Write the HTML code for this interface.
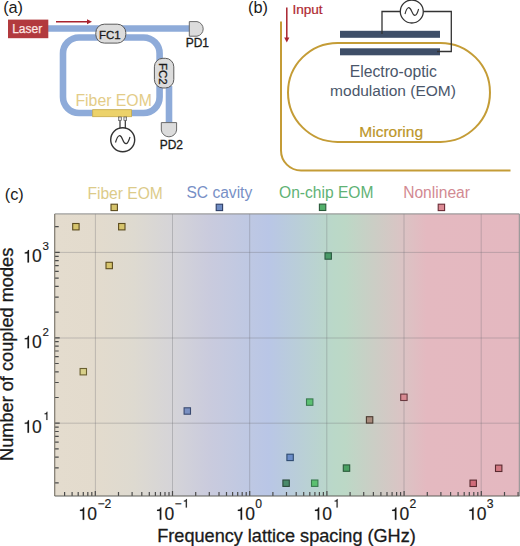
<!DOCTYPE html>
<html><head><meta charset="utf-8">
<style>
html,body{margin:0;padding:0;background:#fff;width:520px;height:546px;overflow:hidden}
svg{display:block;font-family:"Liberation Sans",sans-serif}
</style></head><body>
<svg width="520" height="546" viewBox="0 0 520 546">
<defs>
<linearGradient id="bg" x1="54.7" y1="0" x2="519.5" y2="0" gradientUnits="userSpaceOnUse">
<stop offset="0" stop-color="#e4dcce"/>
<stop offset="0.087" stop-color="#e3dbcd"/>
<stop offset="0.17" stop-color="#dedad0"/>
<stop offset="0.254" stop-color="#d5d4d8"/>
<stop offset="0.33" stop-color="#cacbdd"/>
<stop offset="0.42" stop-color="#bec8e3"/>
<stop offset="0.46" stop-color="#b9c6e6"/>
<stop offset="0.6" stop-color="#bad8c8"/>
<stop offset="0.625" stop-color="#bcd8c6"/>
<stop offset="0.751" stop-color="#dbc3c4"/>
<stop offset="0.8" stop-color="#e4b9c0"/>
<stop offset="1" stop-color="#e4b8c0"/>
</linearGradient>
</defs>

<!-- ============ (a) ============ -->
<text x="3.15" y="12.65" font-size="16.3" fill="#1a1a1a">(a)</text>
<g fill="none" stroke="#8eabd9" stroke-width="6.6">
<path d="M48 28.5 H190"/>
<path d="M111 37.5 H143.6 A16 16 0 0 1 159.6 53.5 V97 A16 16 0 0 1 143.6 113 H79 A16 16 0 0 1 63 97 V53.5 A16 16 0 0 1 79 37.5 H111"/>
<path d="M169 86 V123.5"/>
</g>
<rect x="8" y="19.6" width="40.3" height="18.6" fill="#b23a3e"/>
<text x="12.2" y="33" font-size="12" fill="#fde6e2" stroke="#fde6e2" stroke-width="0.25">Laser</text>
<path d="M56 21.8 H88.5" stroke="#a8232e" stroke-width="1.5"/>
<path d="M92 21.8 L87 19.3 L87 24.3 Z" fill="#a8232e"/>
<rect x="95.8" y="24.2" width="30" height="18.9" rx="8.5" fill="#dcdcdc" stroke="#5a5a5a" stroke-width="1"/>
<text x="109.9" y="39.2" font-size="11.5" text-anchor="middle" fill="#1a1a1a" stroke="#1a1a1a" stroke-width="0.3">FC1</text>
<rect x="154.4" y="58.3" width="19.4" height="29.7" rx="8.5" fill="#dcdcdc" stroke="#5a5a5a" stroke-width="1"/>
<text transform="translate(159 73.85) rotate(90)" font-size="11.5" text-anchor="middle" fill="#1a1a1a" stroke="#1a1a1a" stroke-width="0.3">FC2</text>
<path d="M189.3 21.6 H197 A7.4 7.4 0 0 1 197 36.2 H189.3 Z" fill="#dcdcdc" stroke="#6a6a6a" stroke-width="1"/>
<text x="185.7" y="46.6" font-size="12" fill="#1a1a1a" stroke="#1a1a1a" stroke-width="0.3">PD1</text>
<path d="M161.3 122.6 V130 A7.7 7.7 0 0 0 176.6 130 V122.6 Z" fill="#dcdcdc" stroke="#6a6a6a" stroke-width="1"/>
<text x="159.7" y="149" font-size="12" fill="#1a1a1a" stroke="#1a1a1a" stroke-width="0.3">PD2</text>
<text x="75.45" y="106.2" font-size="15.8" fill="#e3cc88">Fiber EOM</text>
<rect x="92.7" y="109.7" width="38.8" height="7" fill="#ecd26a" stroke="#c9ac48" stroke-width="0.8"/>
<path d="M120 117 V128 M125.3 117 V128" stroke="#333" stroke-width="1.2"/>
<rect x="118.6" y="117" width="2.8" height="3.5" fill="#ddd" stroke="#444" stroke-width="0.6"/>
<rect x="123.9" y="117" width="2.8" height="3.5" fill="#ddd" stroke="#444" stroke-width="0.6"/>
<circle cx="122.7" cy="139.7" r="12" fill="#fff" stroke="#333" stroke-width="1.4"/>
<path d="M115.5 142.5 C118 134 120.5 134 122.7 139.7 C125 145.4 127.5 145.4 130 137" fill="none" stroke="#333" stroke-width="1.2"/>

<!-- ============ (b) ============ -->
<text x="248" y="12.65" font-size="16.3" fill="#1a1a1a">(b)</text>
<path d="M281 21.5 V150.5 A20 20 0 0 0 301 170.5 H510.5" fill="none" stroke="#c49c36" stroke-width="2"/>
<path d="M286.8 7.4 V38.5" stroke="#a8232e" stroke-width="1.5"/>
<path d="M286.8 42.6 L284.2 37.6 L289.4 37.6 Z" fill="#a8232e"/>
<text x="292.4" y="14.3" font-size="13.6" fill="#b0282f" stroke="#b0282f" stroke-width="0.2">Input</text>
<path d="M337.5 42.9 H440.5 A49.5 49.5 0 0 1 440.5 141.9 H337.5 A49.5 49.5 0 0 1 337.5 42.9 Z" fill="none" stroke="#c49c36" stroke-width="2"/>
<rect x="340" y="30.8" width="100" height="7" fill="#3e4e68"/>
<rect x="340" y="48.3" width="100" height="7" fill="#3e4e68"/>
<path d="M382 34 V11.5 H400.3 M423.3 11.5 H451.3 V51.5 H437" fill="none" stroke="#333" stroke-width="1.3"/>
<circle cx="411.8" cy="11.5" r="11.5" fill="#fff" stroke="#333" stroke-width="1.3"/>
<path d="M405 14 C407 6 409.5 6 411.8 11.5 C414 17 416.5 17 418.6 9" fill="none" stroke="#333" stroke-width="1.1"/>
<text x="349.75" y="76.6" font-size="15.7" fill="#4a566a">Electro-optic</text>
<text x="330.1" y="95.6" font-size="15.5" fill="#4a566a">modulation (EOM)</text>
<text x="359.3" y="136.7" font-size="15.5" fill="#bc9628" stroke="#bc9628" stroke-width="0.2">Microring</text>

<!-- ============ (c) ============ -->
<text x="4.77" y="199.65" font-size="16.3" fill="#1a1a1a">(c)</text>
<text x="87.4" y="198.5" font-size="15.6" fill="#dccb8a">Fiber EOM</text>
<text x="186.4" y="198.2" font-size="15.6" fill="#7890c6">SC cavity</text>
<text x="279.0" y="197.9" font-size="15.6" fill="#60b275">On-chip EOM</text>
<text x="403.2" y="198.4" font-size="15.6" fill="#d28a92">Nonlinear</text>

<rect x="54.7" y="213.9" width="464.8" height="282.1" fill="url(#bg)"/>
<g id="grid" stroke="#6a6a70" stroke-opacity="0.32" stroke-width="1">
<path d="M95.4 213.9 V496 M172.5 213.9 V496 M249.7 213.9 V496 M326.8 213.9 V496 M404 213.9 V496 M481.2 213.9 V496"/>
<path d="M54.7 252.4 H519.5 M54.7 338 H519.5 M54.7 423.2 H519.5"/>
</g>
<g id="ticks" stroke="#4a4a4a" stroke-width="1.2"><path d="M64.6 496 v-4 M72.1 496 v-4 M78.2 496 v-4 M83.3 496 v-4 M87.8 496 v-4 M91.8 496 v-4 M95.3 496 v-5 M118.5 496 v-4 M132.1 496 v-4 M141.8 496 v-4 M149.3 496 v-4 M155.4 496 v-4 M160.5 496 v-4 M165.0 496 v-4 M169.0 496 v-4 M172.5 496 v-5 M195.7 496 v-4 M209.3 496 v-4 M219.0 496 v-4 M226.5 496 v-4 M232.6 496 v-4 M237.7 496 v-4 M242.2 496 v-4 M246.2 496 v-4 M249.7 496 v-5 M272.9 496 v-4 M286.5 496 v-4 M296.2 496 v-4 M303.7 496 v-4 M309.8 496 v-4 M314.9 496 v-4 M319.4 496 v-4 M323.4 496 v-4 M326.9 496 v-5 M350.1 496 v-4 M363.7 496 v-4 M373.4 496 v-4 M380.9 496 v-4 M387.0 496 v-4 M392.1 496 v-4 M396.6 496 v-4 M400.6 496 v-4 M404.1 496 v-5 M427.3 496 v-4 M440.9 496 v-4 M450.6 496 v-4 M458.1 496 v-4 M464.2 496 v-4 M469.3 496 v-4 M473.8 496 v-4 M477.8 496 v-4 M481.3 496 v-5 M504.5 496 v-4 M518.1 496 v-4 M54.7 482.9 h4 M54.7 467.9 h4 M54.7 457.2 h4 M54.7 448.9 h4 M54.7 442.1 h4 M54.7 436.4 h4 M54.7 431.5 h4 M54.7 427.1 h4 M54.7 423.2 h5 M54.7 397.5 h4 M54.7 382.5 h4 M54.7 371.8 h4 M54.7 363.5 h4 M54.7 356.7 h4 M54.7 351.0 h4 M54.7 346.1 h4 M54.7 341.7 h4 M54.7 337.8 h5 M54.7 312.1 h4 M54.7 297.1 h4 M54.7 286.4 h4 M54.7 278.1 h4 M54.7 271.3 h4 M54.7 265.6 h4 M54.7 260.7 h4 M54.7 256.3 h4 M54.7 252.4 h5 M54.7 226.7 h4"/></g>
<path d="M54.7 213.9 H519.3 V496" fill="none" stroke="#8a8a8a" stroke-width="1"/>
<path d="M54.7 213.9 V496" fill="none" stroke="#7e796e" stroke-width="1.2"/>
<path d="M54.7 496 H519.5" fill="none" stroke="#5e5e58" stroke-width="1.2"/>

<g id="markers" stroke-width="1.1"><rect x="111.00" y="204.20" width="6.4" height="6.4" fill="#d6c46c" stroke="#5c4c1e"/><rect x="216.20" y="204.20" width="6.4" height="6.4" fill="#6e8cc4" stroke="#2e3e66"/><rect x="319.40" y="204.10" width="6.4" height="6.4" fill="#52b06a" stroke="#2a5a3a"/><rect x="438.20" y="204.20" width="6.4" height="6.4" fill="#dc8a94" stroke="#6a2c36"/><rect x="72.70" y="223.50" width="6.4" height="6.4" fill="#d6c46c" stroke="#5c4c1e"/><rect x="118.60" y="223.50" width="6.4" height="6.4" fill="#d6c46c" stroke="#5c4c1e"/><rect x="106.00" y="262.30" width="6.4" height="6.4" fill="#d6c46c" stroke="#5c4c1e"/><rect x="80.10" y="368.50" width="6.4" height="6.4" fill="#d8d08a" stroke="#6a6030"/><rect x="184.10" y="407.80" width="6.4" height="6.4" fill="#7a90c2" stroke="#3a4a70"/><rect x="286.90" y="454.20" width="6.4" height="6.4" fill="#6a8cc8" stroke="#2e4a70"/><rect x="325.00" y="252.80" width="6.4" height="6.4" fill="#4a9a68" stroke="#2a5a40"/><rect x="306.50" y="398.90" width="6.4" height="6.4" fill="#5cc072" stroke="#3a7a50"/><rect x="343.30" y="464.90" width="6.4" height="6.4" fill="#4aa062" stroke="#2a5a3a"/><rect x="282.90" y="480.00" width="6.4" height="6.4" fill="#4a8a6a" stroke="#2a4a3a"/><rect x="311.50" y="480.00" width="6.4" height="6.4" fill="#5cc070" stroke="#3a7a50"/><rect x="400.70" y="394.10" width="6.4" height="6.4" fill="#d88a92" stroke="#6a3a40"/><rect x="366.40" y="416.70" width="6.4" height="6.4" fill="#a88a7c" stroke="#4a3a30"/><rect x="495.50" y="465.10" width="6.4" height="6.4" fill="#d27882" stroke="#5a2a30"/><rect x="470.00" y="480.10" width="6.4" height="6.4" fill="#d06c7a" stroke="#5a2a30"/></g>

<!-- tick labels -->
<g font-size="17.5" fill="#1a1a1a" stroke="#1a1a1a" stroke-width="0.15">
<path transform="translate(22.95 262.4) scale(0.0175 -0.0175)" stroke-width="8.6" d="M259 505H102V568Q204 581 235 604Q266 627 289 709H347V0H259Z"/><text x="32.08" y="262.4">0</text><text x="42.4" y="249.6" font-size="11.5">3</text>
<path transform="translate(22.95 348.2) scale(0.0175 -0.0175)" stroke-width="8.6" d="M259 505H102V568Q204 581 235 604Q266 627 289 709H347V0H259Z"/><text x="32.08" y="348.2">0</text><text x="42.4" y="335.8" font-size="11.5">2</text>
<path transform="translate(22.95 432.7) scale(0.0175 -0.0175)" stroke-width="8.6" d="M259 505H102V568Q204 581 235 604Q266 627 289 709H347V0H259Z"/><text x="32.08" y="432.7">0</text><path transform="translate(43.40 420) scale(0.0115 -0.0115)" stroke-width="13.0" d="M259 505H102V568Q204 581 235 604Q266 627 289 709H347V0H259Z"/>
<path transform="translate(78.15 519.8) scale(0.0175 -0.0175)" stroke-width="8.6" d="M259 505H102V568Q204 581 235 604Q266 627 289 709H347V0H259Z"/><text x="87.28" y="519.8">0</text><text x="97.4" y="507.6" font-size="12.2">−2</text>
<path transform="translate(155.25 519.8) scale(0.0175 -0.0175)" stroke-width="8.6" d="M259 505H102V568Q204 581 235 604Q266 627 289 709H347V0H259Z"/><text x="164.38" y="519.8">0</text><text x="174.5" y="507.6" font-size="12.2">−</text><path transform="translate(182.62 507.6) scale(0.0122 -0.0122)" stroke-width="12.3" d="M259 505H102V568Q204 581 235 604Q266 627 289 709H347V0H259Z"/>
<path transform="translate(236.05 519.8) scale(0.0175 -0.0175)" stroke-width="8.6" d="M259 505H102V568Q204 581 235 604Q266 627 289 709H347V0H259Z"/><text x="245.18" y="519.8">0</text><text x="255.3" y="507.6" font-size="12.2">0</text>
<path transform="translate(313.15 519.8) scale(0.0175 -0.0175)" stroke-width="8.6" d="M259 505H102V568Q204 581 235 604Q266 627 289 709H347V0H259Z"/><text x="322.28" y="519.8">0</text><path transform="translate(333.40 507.6) scale(0.0122 -0.0122)" stroke-width="12.3" d="M259 505H102V568Q204 581 235 604Q266 627 289 709H347V0H259Z"/>
<path transform="translate(390.35 519.8) scale(0.0175 -0.0175)" stroke-width="8.6" d="M259 505H102V568Q204 581 235 604Q266 627 289 709H347V0H259Z"/><text x="399.48" y="519.8">0</text><text x="409.6" y="507.6" font-size="12.2">2</text>
<path transform="translate(467.55 519.8) scale(0.0175 -0.0175)" stroke-width="8.6" d="M259 505H102V568Q204 581 235 604Q266 627 289 709H347V0H259Z"/><text x="476.68" y="519.8">0</text><text x="486.8" y="507.6" font-size="12.2">3</text>
</g>
<text x="157.3" y="542.3" font-size="18.1" fill="#1a1a1a" stroke="#1a1a1a" stroke-width="0.3">Frequency lattice spacing (GHz)</text>
<text transform="translate(12.9 461) rotate(-90)" font-size="18.2" fill="#1a1a1a" stroke="#1a1a1a" stroke-width="0.3">Number of coupled modes</text>
</svg>
</body></html>
